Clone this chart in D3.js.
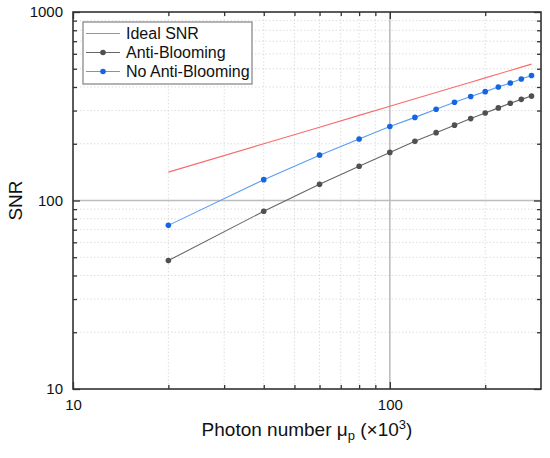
<!DOCTYPE html>
<html>
<head>
<meta charset="utf-8">
<script src="https://cdn.jsdelivr.net/npm/d3@7"></script>
<style>
  body { margin: 0; background: #fff; }
  svg { display: block; font-family: "Liberation Sans", Arial, sans-serif; }
</style>
</head>
<body>
<div class="chart"></div>
<script>
// photon number (x10^3)
var photons = [20, 40, 60, 80, 100, 120, 140, 160, 180, 200, 220, 240, 260, 280];
var idealSNR = [141.4, 200, 244.9, 282.8, 316.2, 346.4, 374.2, 400, 424.3, 447.2, 469, 489.9, 509.9, 529.2];
var antiBlooming = [48, 87.7, 122, 152, 180, 206, 229, 251, 272, 291, 310, 328, 344, 358];
var noAntiBlooming = [73.8, 129, 174, 212, 247, 276, 305, 332, 356, 378, 400, 420, 441, 460];

var xMajor = [10, 100];
var xMinor = [20, 30, 40, 50, 60, 70, 80, 90, 200];
var yMajor = [10, 100, 1000];
var yMinor = [20, 30, 40, 50, 60, 70, 80, 90, 200, 300, 400, 500, 600, 700, 800, 900];

var series = [
  {name: 'Ideal SNR', vals: idealSNR, line: '#f76c6c', dot: null},
  {name: 'Anti-Blooming', vals: antiBlooming, line: '#666666', dot: '#505050'},
  {name: 'No Anti-Blooming', vals: noAntiBlooming, line: '#5a9cf2', dot: '#1565e0'}
];

graph('.chart');

function graph(selector){
  var w = 550, h = 458;
  var left = 73, right = 541, top = 12, bottom = 389;

  var svg = d3.select(selector).append('svg')
    .attr('width', w)
    .attr('height', h);

  var x = d3.scaleLog().domain([10, 300]).range([left, right]);
  var y = d3.scaleLog().domain([10, 1000]).range([bottom, top]);

  // minor grid
  svg.selectAll('line.gx').data(xMinor).enter().append('line')
    .attr('x1', function(d){ return x(d); }).attr('x2', function(d){ return x(d); })
    .attr('y1', top).attr('y2', bottom)
    .attr('stroke', '#d6d6d6').attr('stroke-width', 0.8).attr('stroke-dasharray', '1.5,2');
  svg.selectAll('line.gy').data(yMinor).enter().append('line')
    .attr('y1', function(d){ return y(d); }).attr('y2', function(d){ return y(d); })
    .attr('x1', left).attr('x2', right)
    .attr('stroke', '#d6d6d6').attr('stroke-width', 0.8).attr('stroke-dasharray', '1.5,2');
  // major grid
  svg.append('line')
    .attr('x1', x(100)).attr('x2', x(100)).attr('y1', top).attr('y2', bottom)
    .attr('stroke', '#bdbdbd').attr('stroke-width', 1.6);
  svg.append('line')
    .attr('y1', y(100)).attr('y2', y(100)).attr('x1', left).attr('x2', right)
    .attr('stroke', '#bdbdbd').attr('stroke-width', 1.6);

  // axes, ticks pointing inward
  function addAxis(axisFn, scale, vals, size, tx, ty, labels){
    var a = axisFn(scale).tickValues(vals).tickSizeInner(-size).tickSizeOuter(0)
      .tickFormat(labels ? d3.format('d') : '');
    var g = svg.append('g').attr('transform', 'translate(' + tx + ',' + ty + ')').call(a);
    g.select('.domain').remove();
    g.selectAll('.tick line').attr('stroke', '#333').attr('stroke-width', 1.3);
    g.selectAll('.tick text').attr('fill', '#111').style('font-size', '15px')
      .style('font-family', '"Liberation Sans", Arial, sans-serif');
    return g;
  }
  var bx = addAxis(d3.axisBottom, x, xMajor, 7, 0, bottom, true);
  bx.selectAll('.tick text').attr('y', 10);
  addAxis(d3.axisBottom, x, xMinor, 4, 0, bottom, false);
  addAxis(d3.axisTop, x, xMajor, 7, 0, top, false);
  addAxis(d3.axisTop, x, xMinor, 4, 0, top, false);
  var ly = addAxis(d3.axisLeft, y, yMajor, 7, left, 0, true);
  ly.selectAll('.tick text').attr('x', -10);
  addAxis(d3.axisLeft, y, yMinor, 4, left, 0, false);
  addAxis(d3.axisRight, y, yMajor, 7, right, 0, false);
  addAxis(d3.axisRight, y, yMinor, 4, right, 0, false);

  svg.append('rect')
    .attr('x', left).attr('y', top)
    .attr('width', right - left).attr('height', bottom - top)
    .attr('fill', 'none').attr('stroke', '#333').attr('stroke-width', 1.6);

  // series
  var line = d3.line()
    .x(function(d, i){ return x(photons[i]); })
    .y(function(d){ return y(d); });

  series.forEach(function(s){
    svg.append('path')
      .datum(s.vals)
      .attr('d', line)
      .attr('fill', 'none')
      .attr('stroke', s.line)
      .attr('stroke-width', 1.1);
    if (s.dot) {
      svg.selectAll(null).data(s.vals).enter().append('circle')
        .attr('cx', function(d, i){ return x(photons[i]); })
        .attr('cy', function(d){ return y(d); })
        .attr('r', 2.8)
        .attr('fill', s.dot);
    }
  });

  // legend
  var lg = svg.append('g');
  lg.append('rect')
    .attr('x', 83).attr('y', 22).attr('width', 169).attr('height', 62)
    .attr('fill', '#fff').attr('stroke', '#8a8a8a').attr('stroke-width', 1.3);
  series.forEach(function(s, i){
    var ly0 = 33.5 + i * 19;
    lg.append('line')
      .attr('x1', 86).attr('x2', 120).attr('y1', ly0).attr('y2', ly0)
      .attr('stroke', s.line).attr('stroke-width', 1.1);
    if (s.dot) {
      lg.append('circle').attr('cx', 103).attr('cy', ly0).attr('r', 2.8).attr('fill', s.dot);
    }
    lg.append('text')
      .attr('x', 126).attr('y', ly0 + 5.5)
      .attr('fill', '#111')
      .style('font-size', '16px')
      .text(s.name);
  });

  // axis titles
  var xt = svg.append('text')
    .attr('x', (left + right) / 2).attr('y', 436)
    .attr('text-anchor', 'middle')
    .attr('fill', '#111')
    .style('font-size', '19px');
  xt.append('tspan').text('Photon number \u03bc');
  xt.append('tspan').attr('dy', 4).style('font-size', '13px').text('p');
  xt.append('tspan').attr('dy', -4).text(' (\u00d710');
  xt.append('tspan').attr('dy', -7).style('font-size', '13px').text('3');
  xt.append('tspan').attr('dy', 7).text(')');

  svg.append('text')
    .attr('transform', 'translate(22,' + y(100) + ') rotate(-90)')
    .attr('text-anchor', 'middle')
    .attr('fill', '#111')
    .style('font-size', '19px')
    .text('SNR');
}
</script>
</body>
</html>
